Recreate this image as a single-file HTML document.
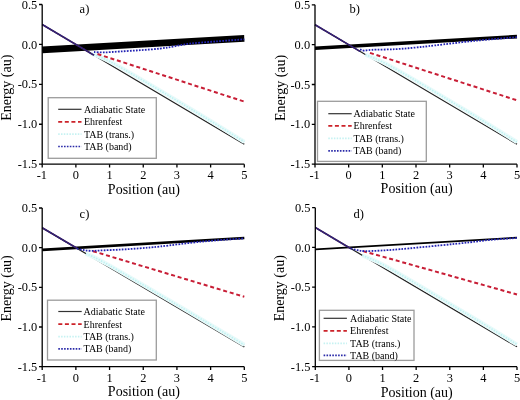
<!DOCTYPE html>
<html><head><meta charset="utf-8"><title>Energy vs Position</title>
<style>
html,body{margin:0;padding:0;background:#fff;}
body{width:520px;height:400px;overflow:hidden;}
svg{display:block;}
text{font-family:"Liberation Serif", "Times New Roman", serif;fill:#000;}
.tl{font-size:12.4px;}
.at{font-size:14px;}
.pl{font-size:12.5px;}
.lg{font-size:10px;}
</style></head>
<body>
<svg width="520" height="400" viewBox="0 0 520 400">
<rect width="520" height="400" fill="#fff"/>
<g>
<line x1="42.2" y1="49.93" x2="244.3" y2="38.44" stroke="#000" stroke-width="6.8"/>
<line x1="42.2" y1="24.46" x2="244.3" y2="144.24" stroke="#222" stroke-width="1.25"/>
<path d="M91.04 53.41C95.25 55.34 99.18 55.48 116.3 65.03C133.43 74.58 172.44 97.9 193.78 110.7C215.11 123.5 235.88 136.65 244.3 141.84" fill="none" stroke="#e8fafa" stroke-width="4.2"/>
<path d="M91.04 53.41C95.25 55.34 99.18 55.48 116.3 65.03C133.43 74.58 172.44 97.9 193.78 110.7C215.11 123.5 235.88 136.65 244.3 141.84" fill="none" stroke="#bff2f2" stroke-width="1.6" stroke-dasharray="1.4 1.4"/>
<line x1="97.5" y1="54" x2="244.3" y2="101.6" stroke="#c81e36" stroke-width="2" stroke-dasharray="4 2.8"/>
<path d="M94 52C95.67 52.07 99.67 52.48 104 52.4C108.33 52.32 114 51.87 120 51.5C126 51.13 133.33 50.68 140 50.2C146.67 49.72 154.33 49.23 160 48.6C165.67 47.97 169 47.23 174 46.4C179 45.57 183.17 44.42 190 43.6C196.83 42.78 205.95 42.22 215 41.5C224.05 40.78 239.42 39.67 244.3 39.3" fill="none" stroke="#2323b4" stroke-width="1.8" stroke-dasharray="1.7 1.3"/>
<line x1="42.2" y1="24.46" x2="94" y2="55.16" stroke="#3a1d5c" stroke-width="1.7"/>
<line x1="42.2" y1="24.46" x2="94" y2="55.16" stroke="#2a2aa8" stroke-width="1.5" stroke-dasharray="1.5 1.5" opacity="0.55"/>
<path d="M42.2 4.5V164.2H244.3" fill="none" stroke="#000" stroke-width="1.3"/>
<path d="M39 4.5H42.2M39 44.42H42.2M39 84.35H42.2M39 124.27H42.2M39 164.2H42.2M42.2 164.2V167.6M75.88 164.2V167.6M109.57 164.2V167.6M143.25 164.2V167.6M176.93 164.2V167.6M210.62 164.2V167.6M244.3 164.2V167.6" stroke="#000" stroke-width="1.3"/>
<text x="37.3" y="8.6" text-anchor="end" class="tl">0.5</text>
<text x="37.3" y="48.52" text-anchor="end" class="tl">0.0</text>
<text x="37.3" y="88.45" text-anchor="end" class="tl">-0.5</text>
<text x="37.3" y="128.38" text-anchor="end" class="tl">-1.0</text>
<text x="37.3" y="168.3" text-anchor="end" class="tl">-1.5</text>
<text x="41.8" y="179" text-anchor="middle" class="tl">-1</text>
<text x="75.88" y="179" text-anchor="middle" class="tl">0</text>
<text x="109.57" y="179" text-anchor="middle" class="tl">1</text>
<text x="143.25" y="179" text-anchor="middle" class="tl">2</text>
<text x="176.93" y="179" text-anchor="middle" class="tl">3</text>
<text x="210.62" y="179" text-anchor="middle" class="tl">4</text>
<text x="244.3" y="179" text-anchor="middle" class="tl">5</text>
<text x="143.85" y="194.2" text-anchor="middle" class="at">Position (au)</text>
<text transform="translate(10.9 87.75) rotate(-90)" text-anchor="middle" class="at">Energy (au)</text>
<text x="79.6" y="12.9" class="pl">a)</text>
<rect x="48.2" y="97.7" width="108.1" height="60.6" fill="#fff" stroke="#9c9c9c" stroke-width="1.3"/>
<line x1="58.2" y1="109.3" x2="81.5" y2="109.3" stroke="#333" stroke-width="1.2"/>
<text x="83.9" y="112.8" class="lg">Adiabatic State</text>
<line x1="58.2" y1="121.8" x2="81.5" y2="121.8" stroke="#cc2229" stroke-width="1.8" stroke-dasharray="4 2.6"/>
<text x="83.9" y="125.3" class="lg">Ehrenfest</text>
<line x1="58.2" y1="134.1" x2="81.5" y2="134.1" stroke="#c6f2f2" stroke-width="1.7" stroke-dasharray="1.5 1.3"/>
<text x="83.9" y="137.6" class="lg">TAB (trans.)</text>
<line x1="58.2" y1="146.5" x2="81.5" y2="146.5" stroke="#2a2aa8" stroke-width="1.6" stroke-dasharray="1.6 1.3"/>
<text x="83.9" y="150" class="lg">TAB (band)</text>
</g>
<g>
<line x1="315" y1="48.24" x2="517" y2="36.6" stroke="#000" stroke-width="3.7"/>
<line x1="315" y1="24.72" x2="517" y2="144.27" stroke="#222" stroke-width="1.25"/>
<path d="M365.5 54.61C369.99 56.71 375.6 57.84 392.43 67.21C409.27 76.57 445.74 98.33 466.5 110.8C487.26 123.27 508.58 136.84 517 142.04" fill="none" stroke="#e8fafa" stroke-width="4.2"/>
<path d="M365.5 54.61C369.99 56.71 375.6 57.84 392.43 67.21C409.27 76.57 445.74 98.33 466.5 110.8C487.26 123.27 508.58 136.84 517 142.04" fill="none" stroke="#bff2f2" stroke-width="1.6" stroke-dasharray="1.4 1.4"/>
<line x1="370" y1="52.9" x2="517.2" y2="100.4" stroke="#c81e36" stroke-width="2" stroke-dasharray="4 2.8"/>
<path d="M360 49.3C360.67 49.52 362 50.52 364 50.6C366 50.68 366.83 50.03 372 49.8C377.17 49.57 387.83 49.57 395 49.2C402.17 48.83 408.33 48.23 415 47.6C421.67 46.97 425 46.53 435 45.4C445 44.27 461.33 42.17 475 40.8C488.67 39.43 510 37.8 517 37.2" fill="none" stroke="#2323b4" stroke-width="1.8" stroke-dasharray="1.7 1.3"/>
<line x1="315" y1="24.72" x2="360" y2="51.36" stroke="#3a1d5c" stroke-width="1.7"/>
<line x1="315" y1="24.72" x2="360" y2="51.36" stroke="#2a2aa8" stroke-width="1.5" stroke-dasharray="1.5 1.5" opacity="0.55"/>
<path d="M315 4.8V164.2H517" fill="none" stroke="#000" stroke-width="1.3"/>
<path d="M311.8 4.8H315M311.8 44.65H315M311.8 84.5H315M311.8 124.35H315M311.8 164.2H315M315 164.2V167.6M348.67 164.2V167.6M382.33 164.2V167.6M416 164.2V167.6M449.67 164.2V167.6M483.33 164.2V167.6M517 164.2V167.6" stroke="#000" stroke-width="1.3"/>
<text x="310.1" y="8.9" text-anchor="end" class="tl">0.5</text>
<text x="310.1" y="48.75" text-anchor="end" class="tl">0.0</text>
<text x="310.1" y="88.6" text-anchor="end" class="tl">-0.5</text>
<text x="310.1" y="128.45" text-anchor="end" class="tl">-1.0</text>
<text x="310.1" y="168.3" text-anchor="end" class="tl">-1.5</text>
<text x="314.6" y="179" text-anchor="middle" class="tl">-1</text>
<text x="348.67" y="179" text-anchor="middle" class="tl">0</text>
<text x="382.33" y="179" text-anchor="middle" class="tl">1</text>
<text x="416" y="179" text-anchor="middle" class="tl">2</text>
<text x="449.67" y="179" text-anchor="middle" class="tl">3</text>
<text x="483.33" y="179" text-anchor="middle" class="tl">4</text>
<text x="517" y="179" text-anchor="middle" class="tl">5</text>
<text x="416.6" y="192.6" text-anchor="middle" class="at">Position (au)</text>
<text transform="translate(284.5 87.9) rotate(-90)" text-anchor="middle" class="at">Energy (au)</text>
<text x="349.4" y="13.4" class="pl">b)</text>
<rect x="317.5" y="101.3" width="108.8" height="60.1" fill="#fff" stroke="#9c9c9c" stroke-width="1.3"/>
<line x1="328.3" y1="113.7" x2="351.7" y2="113.7" stroke="#333" stroke-width="1.2"/>
<text x="353.6" y="117.2" class="lg">Adiabatic State</text>
<line x1="328.3" y1="125.8" x2="351.7" y2="125.8" stroke="#cc2229" stroke-width="1.8" stroke-dasharray="4 2.6"/>
<text x="353.6" y="129.3" class="lg">Ehrenfest</text>
<line x1="328.3" y1="138.3" x2="351.7" y2="138.3" stroke="#c6f2f2" stroke-width="1.7" stroke-dasharray="1.5 1.3"/>
<text x="353.6" y="141.8" class="lg">TAB (trans.)</text>
<line x1="328.3" y1="150.9" x2="351.7" y2="150.9" stroke="#2a2aa8" stroke-width="1.6" stroke-dasharray="1.6 1.3"/>
<text x="353.6" y="154.4" class="lg">TAB (band)</text>
</g>
<g>
<line x1="42.2" y1="249.9" x2="244.3" y2="238.07" stroke="#000" stroke-width="2.6"/>
<line x1="42.2" y1="227.84" x2="244.3" y2="346.86" stroke="#222" stroke-width="1.25"/>
<path d="M85.99 253.63C89.92 255.61 91.6 255.35 109.57 265.53C127.53 275.71 171.32 301.5 193.78 314.73C216.23 327.95 235.88 339.85 244.3 344.88" fill="none" stroke="#e8fafa" stroke-width="4.2"/>
<path d="M85.99 253.63C89.92 255.61 91.6 255.35 109.57 265.53C127.53 275.71 171.32 301.5 193.78 314.73C216.23 327.95 235.88 339.85 244.3 344.88" fill="none" stroke="#bff2f2" stroke-width="1.6" stroke-dasharray="1.4 1.4"/>
<line x1="93" y1="251.2" x2="244.3" y2="296.8" stroke="#c81e36" stroke-width="2" stroke-dasharray="4 2.8"/>
<path d="M77 248.6C78.17 248.85 81.67 249.72 84 250.1C86.33 250.48 88.33 250.83 91 250.9C93.67 250.97 95.17 250.72 100 250.5C104.83 250.28 113.33 249.97 120 249.6C126.67 249.23 133.33 248.82 140 248.3C146.67 247.78 149.5 247.63 160 246.5C170.5 245.37 188.95 242.87 203 241.5C217.05 240.13 237.42 238.83 244.3 238.3" fill="none" stroke="#2323b4" stroke-width="1.8" stroke-dasharray="1.7 1.3"/>
<line x1="42.2" y1="227.84" x2="77" y2="248.33" stroke="#3a1d5c" stroke-width="1.7"/>
<line x1="42.2" y1="227.84" x2="77" y2="248.33" stroke="#2a2aa8" stroke-width="1.5" stroke-dasharray="1.5 1.5" opacity="0.55"/>
<path d="M42.2 208V366.7H244.3" fill="none" stroke="#000" stroke-width="1.3"/>
<path d="M39 208H42.2M39 247.68H42.2M39 287.35H42.2M39 327.02H42.2M39 366.7H42.2M42.2 366.7V370.1M75.88 366.7V370.1M109.57 366.7V370.1M143.25 366.7V370.1M176.93 366.7V370.1M210.62 366.7V370.1M244.3 366.7V370.1" stroke="#000" stroke-width="1.3"/>
<text x="37.3" y="212.1" text-anchor="end" class="tl">0.5</text>
<text x="37.3" y="251.78" text-anchor="end" class="tl">0.0</text>
<text x="37.3" y="291.45" text-anchor="end" class="tl">-0.5</text>
<text x="37.3" y="331.12" text-anchor="end" class="tl">-1.0</text>
<text x="37.3" y="370.8" text-anchor="end" class="tl">-1.5</text>
<text x="41.8" y="381.5" text-anchor="middle" class="tl">-1</text>
<text x="75.88" y="381.5" text-anchor="middle" class="tl">0</text>
<text x="109.57" y="381.5" text-anchor="middle" class="tl">1</text>
<text x="143.25" y="381.5" text-anchor="middle" class="tl">2</text>
<text x="176.93" y="381.5" text-anchor="middle" class="tl">3</text>
<text x="210.62" y="381.5" text-anchor="middle" class="tl">4</text>
<text x="244.3" y="381.5" text-anchor="middle" class="tl">5</text>
<text x="143.85" y="395.5" text-anchor="middle" class="at">Position (au)</text>
<text transform="translate(10.9 288.35) rotate(-90)" text-anchor="middle" class="at">Energy (au)</text>
<text x="79.6" y="217.8" class="pl">c)</text>
<rect x="47.5" y="300.2" width="108.8" height="59.8" fill="#fff" stroke="#9c9c9c" stroke-width="1.3"/>
<line x1="58.3" y1="311.5" x2="81.7" y2="311.5" stroke="#333" stroke-width="1.2"/>
<text x="83.6" y="315" class="lg">Adiabatic State</text>
<line x1="58.3" y1="324.2" x2="81.7" y2="324.2" stroke="#cc2229" stroke-width="1.8" stroke-dasharray="4 2.6"/>
<text x="83.6" y="327.7" class="lg">Ehrenfest</text>
<line x1="58.3" y1="336.7" x2="81.7" y2="336.7" stroke="#c6f2f2" stroke-width="1.7" stroke-dasharray="1.5 1.3"/>
<text x="83.6" y="340.2" class="lg">TAB (trans.)</text>
<line x1="58.3" y1="348.9" x2="81.7" y2="348.9" stroke="#2a2aa8" stroke-width="1.6" stroke-dasharray="1.6 1.3"/>
<text x="83.6" y="352.4" class="lg">TAB (band)</text>
</g>
<g>
<line x1="315.3" y1="249.28" x2="517" y2="237.67" stroke="#000" stroke-width="1.7"/>
<line x1="315.3" y1="227.57" x2="517" y2="346.82" stroke="#222" stroke-width="1.25"/>
<path d="M362.36 255.4C366.85 257.52 371.89 258.38 389.26 268.12C406.63 277.86 445.28 301.11 466.58 313.83C487.87 326.55 508.6 339.34 517 344.44" fill="none" stroke="#e8fafa" stroke-width="4.2"/>
<path d="M362.36 255.4C366.85 257.52 371.89 258.38 389.26 268.12C406.63 277.86 445.28 301.11 466.58 313.83C487.87 326.55 508.6 339.34 517 344.44" fill="none" stroke="#bff2f2" stroke-width="1.6" stroke-dasharray="1.4 1.4"/>
<line x1="363" y1="251.1" x2="517" y2="294.5" stroke="#c81e36" stroke-width="2" stroke-dasharray="4 2.8"/>
<path d="M351 248.4C352.08 248.7 355.17 249.75 357.5 250.2C359.83 250.65 361.25 251.03 365 251.1C368.75 251.17 374.17 250.92 380 250.6C385.83 250.28 390 250.07 400 249.2C410 248.33 428.33 246.55 440 245.4C451.67 244.25 461.67 243.22 470 242.3C478.33 241.38 482.17 240.63 490 239.9C497.83 239.17 512.5 238.23 517 237.9" fill="none" stroke="#2323b4" stroke-width="1.8" stroke-dasharray="1.7 1.3"/>
<line x1="315.3" y1="227.57" x2="351" y2="248.68" stroke="#3a1d5c" stroke-width="1.7"/>
<line x1="315.3" y1="227.57" x2="351" y2="248.68" stroke="#2a2aa8" stroke-width="1.5" stroke-dasharray="1.5 1.5" opacity="0.55"/>
<path d="M315.3 207.7V366.7H517" fill="none" stroke="#000" stroke-width="1.3"/>
<path d="M312.1 207.7H315.3M312.1 247.45H315.3M312.1 287.2H315.3M312.1 326.95H315.3M312.1 366.7H315.3M315.3 366.7V370.1M348.92 366.7V370.1M382.53 366.7V370.1M416.15 366.7V370.1M449.77 366.7V370.1M483.38 366.7V370.1M517 366.7V370.1" stroke="#000" stroke-width="1.3"/>
<text x="310.4" y="211.8" text-anchor="end" class="tl">0.5</text>
<text x="310.4" y="251.55" text-anchor="end" class="tl">0.0</text>
<text x="310.4" y="291.3" text-anchor="end" class="tl">-0.5</text>
<text x="310.4" y="331.05" text-anchor="end" class="tl">-1.0</text>
<text x="310.4" y="370.8" text-anchor="end" class="tl">-1.5</text>
<text x="314.9" y="381.5" text-anchor="middle" class="tl">-1</text>
<text x="348.92" y="381.5" text-anchor="middle" class="tl">0</text>
<text x="382.53" y="381.5" text-anchor="middle" class="tl">1</text>
<text x="416.15" y="381.5" text-anchor="middle" class="tl">2</text>
<text x="449.77" y="381.5" text-anchor="middle" class="tl">3</text>
<text x="483.38" y="381.5" text-anchor="middle" class="tl">4</text>
<text x="517" y="381.5" text-anchor="middle" class="tl">5</text>
<text x="416.75" y="396.7" text-anchor="middle" class="at">Position (au)</text>
<text transform="translate(284.3 288.2) rotate(-90)" text-anchor="middle" class="at">Energy (au)</text>
<text x="353.6" y="217.6" class="pl">d)</text>
<rect x="319.4" y="310.3" width="94.6" height="50.1" fill="#fff" stroke="#9c9c9c" stroke-width="1.3"/>
<line x1="323.6" y1="318.3" x2="346.9" y2="318.3" stroke="#333" stroke-width="1.2"/>
<text x="350.1" y="321.8" class="lg">Adiabatic State</text>
<line x1="323.6" y1="330.8" x2="346.9" y2="330.8" stroke="#cc2229" stroke-width="1.8" stroke-dasharray="4 2.6"/>
<text x="350.1" y="334.3" class="lg">Ehrenfest</text>
<line x1="323.6" y1="343.3" x2="346.9" y2="343.3" stroke="#c6f2f2" stroke-width="1.7" stroke-dasharray="1.5 1.3"/>
<text x="350.1" y="346.8" class="lg">TAB (trans.)</text>
<line x1="323.6" y1="355.4" x2="346.9" y2="355.4" stroke="#2a2aa8" stroke-width="1.6" stroke-dasharray="1.6 1.3"/>
<text x="350.1" y="358.9" class="lg">TAB (band)</text>
</g>
</svg>
</body></html>
